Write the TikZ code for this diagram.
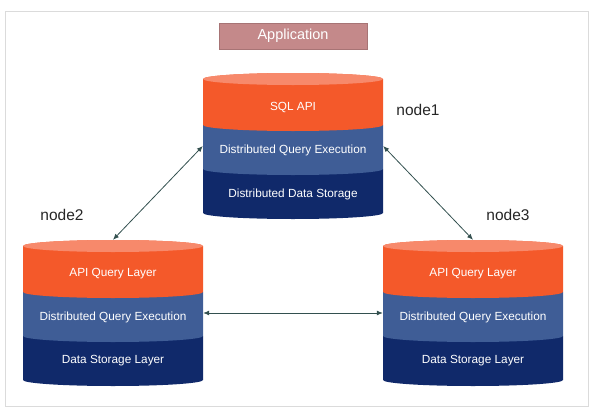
\documentclass[tikz,border=0pt]{standalone}
\usepackage{fontspec}
\setmainfont{Liberation Sans}
\usetikzlibrary{arrows.meta}

\definecolor{apiorange}{HTML}{F4592A}
\definecolor{apitop}{HTML}{F7896B}
\definecolor{execblue}{HTML}{3F5D96}
\definecolor{storenavy}{HTML}{10296A}
\definecolor{appbox}{HTML}{C4898A}
\definecolor{linkgray}{HTML}{33504F}

\begin{document}
\begin{tikzpicture}[x=1pt, y=-1pt,
    layertext/.style={text=white, font=\fontsize{11.8}{13}\selectfont},
    nodelabel/.style={font=\fontsize{15.5}{17}\selectfont, text=black!85},
    link/.style={draw=linkgray, line width=0.8pt, {Latex[length=6pt,width=5pt]}-{Latex[length=6pt,width=5pt]}}]
  \useasboundingbox (0,0) rectangle (590,418);
  % outer frame
  \draw[black!14, line width=0.8pt] (5,11) rectangle (588,406);
  % application box
  \node[fill=appbox, draw=appbox!85!black, line width=0.4pt, minimum width=148pt, minimum height=26pt,
        text=white, font=\fontsize{14.5}{16}\selectfont] (app) at (293,36) {Application};
  % stacked cylinders: name / left x / top y / three layers
  \foreach \nm/\cx/\cy/\ta/\tb/\tc in {
      n1/203/79/SQL API/Distributed Query Execution/Distributed Data Storage,
      n2/23/246/API Query Layer/Distributed Query Execution/Data Storage Layer,
      n3/383/246/API Query Layer/Distributed Query Execution/Data Storage Layer} {
    \fill[storenavy] (\cx,\cy+90) -- (\cx,\cy+134) arc[start angle=180, end angle=0, x radius=90, y radius=6]
      -- (\cx+180,\cy+90) arc[start angle=0, end angle=-180, x radius=90, y radius=6] -- cycle;
    \fill[execblue] (\cx,\cy+46) -- (\cx,\cy+90) arc[start angle=180, end angle=0, x radius=90, y radius=6]
      -- (\cx+180,\cy+46) arc[start angle=0, end angle=-180, x radius=90, y radius=6] -- cycle;
    \fill[apiorange] (\cx,\cy) -- (\cx,\cy+46) arc[start angle=180, end angle=0, x radius=90, y radius=6]
      -- (\cx+180,\cy) arc[start angle=0, end angle=-180, x radius=90, y radius=6] -- cycle;
    \fill[apitop] (\cx+90,\cy) ellipse[x radius=90, y radius=6];
    \node[layertext] at (\cx+90,\cy+28) {\ta};
    \node[layertext] at (\cx+90,\cy+71) {\tb};
    \node[layertext] at (\cx+90,\cy+115) {\tc};
    \node[minimum width=180pt, minimum height=146pt, inner sep=0pt] (\nm) at (\cx+90,\cy+67) {};
  }
  % node names
  \node[nodelabel] (n1lbl) at (418,110) {node1};
  \node[nodelabel] (n2lbl) at (62,215) {node2};
  \node[nodelabel] (n3lbl) at (508,215) {node3};
  % links between nodes
  \draw[link] (n1.west) -- (n2.north);
  \draw[link] (n1.east) -- (n3.north);
  \draw[link] (n2.east) -- (n3.west);
\end{tikzpicture}
\end{document}
